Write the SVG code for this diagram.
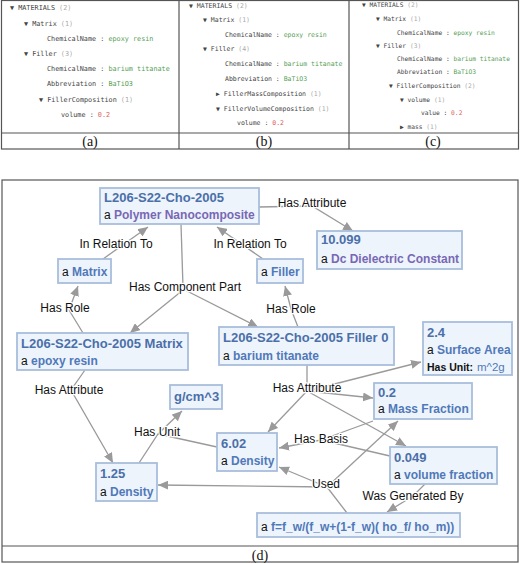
<svg xmlns="http://www.w3.org/2000/svg" width="520" height="564" viewBox="0 0 520 564">
<style>
.frame{fill:none;stroke:#555;stroke-width:1.2}
.cap{font-family:"Liberation Serif",serif;font-size:14px;fill:#111;text-anchor:middle}
.ta{font-family:"DejaVu Sans Mono","Liberation Mono",monospace;font-size:6.8px;fill:#444}
.tb{font-family:"DejaVu Sans Mono","Liberation Mono",monospace;font-size:6.5px;fill:#444}
.tc{font-family:"DejaVu Sans Mono","Liberation Mono",monospace;font-size:6.25px;fill:#444}
.cnt{fill:#aaa}
.str{fill:#55a055}
.num{fill:#e06060}
.box{fill:#eef4fc;stroke:#a8bedc;stroke-width:1.8}
.ttl{font-family:"Liberation Sans",Arial,sans-serif;font-size:13px;font-weight:bold;fill:#4b6fa9}
.sub{font-family:"Liberation Sans",Arial,sans-serif;font-size:12px;fill:#111}
.cls{font-weight:bold;fill:#5079b9}
.pur{font-weight:bold;fill:#7868b4}
.lbl{font-family:"Liberation Sans",Arial,sans-serif;font-size:12px;fill:#111;text-anchor:middle;stroke:#fff;stroke-width:2.5;paint-order:stroke;stroke-linejoin:round}
.e{fill:none;stroke:#9a9a9a;stroke-width:1.3}
.ea{fill:none;stroke:#9a9a9a;stroke-width:1.3;marker-end:url(#arr)}
</style>
<defs>
<marker id="arr" markerUnits="userSpaceOnUse" markerWidth="11" markerHeight="9" refX="10" refY="4.5" orient="auto">
<path d="M0,0 L10,4.5 L0,9 z" fill="#9a9a9a"/>
</marker>
</defs>

<!-- top panels -->
<g id="panels-top">
<rect class="frame" x="1.5" y="0.5" width="517" height="148.5"/>
<line class="frame" x1="179" y1="0" x2="179" y2="149"/>
<line class="frame" x1="349" y1="0" x2="349" y2="149"/>
<line class="frame" x1="1.5" y1="133" x2="518.5" y2="133"/>
<text class="cap" x="90" y="146">(a)</text>
<text class="cap" x="264" y="146">(b)</text>
<text class="cap" x="433" y="146">(c)</text>
</g>

<g id="tree-a">
<text class="ta" x="10" y="9.5">▼ MATERIALS <tspan class="cnt">(2)</tspan></text>
<text class="ta" x="24" y="25.5">▼ Matrix <tspan class="cnt">(1)</tspan></text>
<text class="ta" x="47" y="40.5">ChemicalName : <tspan class="str">epoxy resin</tspan></text>
<text class="ta" x="24" y="55.5">▼ Filler <tspan class="cnt">(3)</tspan></text>
<text class="ta" x="47" y="70.5">ChemicalName : <tspan class="str">barium titanate</tspan></text>
<text class="ta" x="47" y="85.5">Abbreviation : <tspan class="str">BaTiO3</tspan></text>
<text class="ta" x="39" y="101.5">▼ FillerComposition <tspan class="cnt">(1)</tspan></text>
<text class="ta" x="61" y="116.5">volume : <tspan class="num">0.2</tspan></text>
</g>

<g id="tree-b">
<text class="tb" x="189" y="8">▼ MATERIALS <tspan class="cnt">(2)</tspan></text>
<text class="tb" x="203" y="22">▼ Matrix <tspan class="cnt">(1)</tspan></text>
<text class="tb" x="225" y="37">ChemicalName : <tspan class="str">epoxy resin</tspan></text>
<text class="tb" x="203" y="51">▼ Filler <tspan class="cnt">(4)</tspan></text>
<text class="tb" x="225" y="66">ChemicalName : <tspan class="str">barium titanate</tspan></text>
<text class="tb" x="225" y="81">Abbreviation : <tspan class="str">BaTiO3</tspan></text>
<text class="tb" x="216" y="96">▶ FillerMassComposition <tspan class="cnt">(1)</tspan></text>
<text class="tb" x="216" y="111">▼ FillerVolumeComposition <tspan class="cnt">(1)</tspan></text>
<text class="tb" x="237" y="125">volume : <tspan class="num">0.2</tspan></text>
</g>

<g id="tree-c">
<text class="tc" x="362" y="7">▼ MATERIALS <tspan class="cnt">(2)</tspan></text>
<text class="tc" x="376" y="21">▼ Matrix <tspan class="cnt">(1)</tspan></text>
<text class="tc" x="397" y="35">ChemicalName : <tspan class="str">epoxy resin</tspan></text>
<text class="tc" x="376" y="48">▼ Filler <tspan class="cnt">(3)</tspan></text>
<text class="tc" x="397" y="61">ChemicalName : <tspan class="str">barium titanate</tspan></text>
<text class="tc" x="397" y="74">Abbreviation : <tspan class="str">BaTiO3</tspan></text>
<text class="tc" x="389" y="88">▼ FillerComposition <tspan class="cnt">(2)</tspan></text>
<text class="tc" x="400" y="102">▼ volume <tspan class="cnt">(1)</tspan></text>
<text class="tc" x="421" y="115">value : <tspan class="num">0.2</tspan></text>
<text class="tc" x="400" y="129">▶ mass <tspan class="cnt">(1)</tspan></text>
</g>

<!-- panel d -->
<g id="panel-d">
<rect class="frame" x="2" y="180" width="516" height="382"/>
<line class="frame" x1="2" y1="546" x2="518" y2="546"/>
<text class="cap" x="260" y="560">(d)</text>
</g>

<g id="connectors">
<path class="ea" d="M103,259 L148,227"/>
<path class="ea" d="M263,259 L217,227"/>
<path class="ea" d="M259,207 L312,206 L353,231"/>
<path class="e" d="M181,224 L183,287"/>
<path class="ea" d="M183,290 L130,333"/>
<path class="ea" d="M185,290 L258,327"/>
<path class="ea" d="M83,333 L69,310 L78,286"/>
<path class="ea" d="M298,327 L291,309 L285,286"/>
<path class="ea" d="M85,370 L71,390 L113,463"/>
<path class="ea" d="M139,463 L158,434 L182,411"/>
<path class="e" d="M217,447 L158,434"/>
<path class="e" d="M307,365 L307,391"/>
<path class="ea" d="M307,391 L421,362"/>
<path class="ea" d="M307,391 L373,398"/>
<path class="ea" d="M307,391 L268,432"/>
<path class="ea" d="M307,391 L406,446"/>
<path class="ea" d="M390,456 L321,440 L279,448"/>
<path class="e" d="M373,421 L321,440"/>
<path class="e" d="M347,513 L327,487"/>
<path class="ea" d="M327,487 L279,467"/>
<path class="ea" d="M327,487 L158,485"/>
<path class="ea" d="M327,487 L398,421"/>
<path class="ea" d="M425,484 L413,496 L387,512"/>
</g>

<g id="edge-labels">
<text class="lbl" x="116" y="248">In Relation To</text>
<text class="lbl" x="250" y="248">In Relation To</text>
<text class="lbl" x="312" y="207">Has Attribute</text>
<text class="lbl" x="185" y="291">Has Component Part</text>
<text class="lbl" x="65" y="312">Has Role</text>
<text class="lbl" x="291" y="313">Has Role</text>
<text class="lbl" x="69" y="394">Has Attribute</text>
<text class="lbl" x="307" y="392">Has Attribute</text>
<text class="lbl" x="157" y="436">Has Unit</text>
<text class="lbl" x="321" y="443">Has Basis</text>
<text class="lbl" x="326" y="488">Used</text>
<text class="lbl" x="413" y="500">Was Generated By</text>
</g>

<g id="n-polymer">
<rect class="box" x="100" y="188" width="159" height="36"/>
<text class="ttl" x="104" y="201.5">L206-S22-Cho-2005</text>
<text class="sub" x="104" y="218.5">a <tspan class="pur">Polymer Nanocomposite</tspan></text>
</g>
<g id="n-matrix-class">
<rect class="box" x="58" y="259" width="53" height="24"/>
<text class="sub" x="62" y="276">a <tspan class="cls">Matrix</tspan></text>
</g>
<g id="n-dielectric">
<rect class="box" x="317" y="231" width="145" height="38"/>
<text class="ttl" x="321" y="243.5">10.099</text>
<text class="sub" x="321" y="262.5">a <tspan class="pur">Dc Dielectric Constant</tspan></text>
</g>
<g id="n-filler-class">
<rect class="box" x="257" y="259" width="46" height="24"/>
<text class="sub" x="261" y="276">a <tspan class="cls">Filler</tspan></text>
</g>
<g id="n-matrix">
<rect class="box" x="17" y="333" width="171" height="37"/>
<text class="ttl" x="21" y="347.5">L206-S22-Cho-2005 Matrix</text>
<text class="sub" x="21" y="364.5">a <tspan class="cls">epoxy resin</tspan></text>
</g>
<g id="n-filler">
<rect class="box" x="219" y="327" width="175" height="38"/>
<text class="ttl" x="223" y="341.5">L206-S22-Cho-2005 Filler 0</text>
<text class="sub" x="223" y="359.5">a <tspan class="cls">barium titanate</tspan></text>
</g>
<g id="n-surface">
<rect class="box" x="423" y="322" width="89" height="53"/>
<text class="ttl" x="427" y="336.5">2.4</text>
<text class="sub" x="427" y="353.5">a <tspan class="cls">Surface Area</tspan></text>
<text class="sub" x="427" y="371"><tspan font-weight="bold" font-size="10.5px">Has Unit:</tspan><tspan x="477" fill="#5079b9" font-size="11.5px">m^2g</tspan></text>
</g>
<g id="n-mass">
<rect class="box" x="374" y="383" width="98" height="36"/>
<text class="ttl" x="378" y="396.5">0.2</text>
<text class="sub" x="378" y="412.5">a <tspan class="cls">Mass Fraction</tspan></text>
</g>
<g id="n-unit">
<rect class="box" x="170" y="385" width="52" height="24"/>
<text class="ttl" x="174" y="401">g/cm^3</text>
</g>
<g id="n-density602">
<rect class="box" x="217" y="433" width="60" height="38"/>
<text class="ttl" x="221" y="447.5">6.02</text>
<text class="sub" x="221" y="464.5">a <tspan class="cls">Density</tspan></text>
</g>
<g id="n-density125">
<rect class="box" x="96" y="463" width="61" height="38"/>
<text class="ttl" x="100" y="477.5">1.25</text>
<text class="sub" x="100" y="495.5">a <tspan class="cls">Density</tspan></text>
</g>
<g id="n-volume">
<rect class="box" x="390" y="447" width="107" height="37"/>
<text class="ttl" x="394" y="461.5">0.049</text>
<text class="sub" x="394" y="478.5">a <tspan class="cls">volume fraction</tspan></text>
</g>
<g id="n-formula">
<rect class="box" x="257" y="513" width="203" height="24"/>
<text class="sub" x="261" y="531">a <tspan class="cls">f=f_w/(f_w+(1-f_w)( ho_f/ ho_m))</tspan></text>
</g>
</svg>
